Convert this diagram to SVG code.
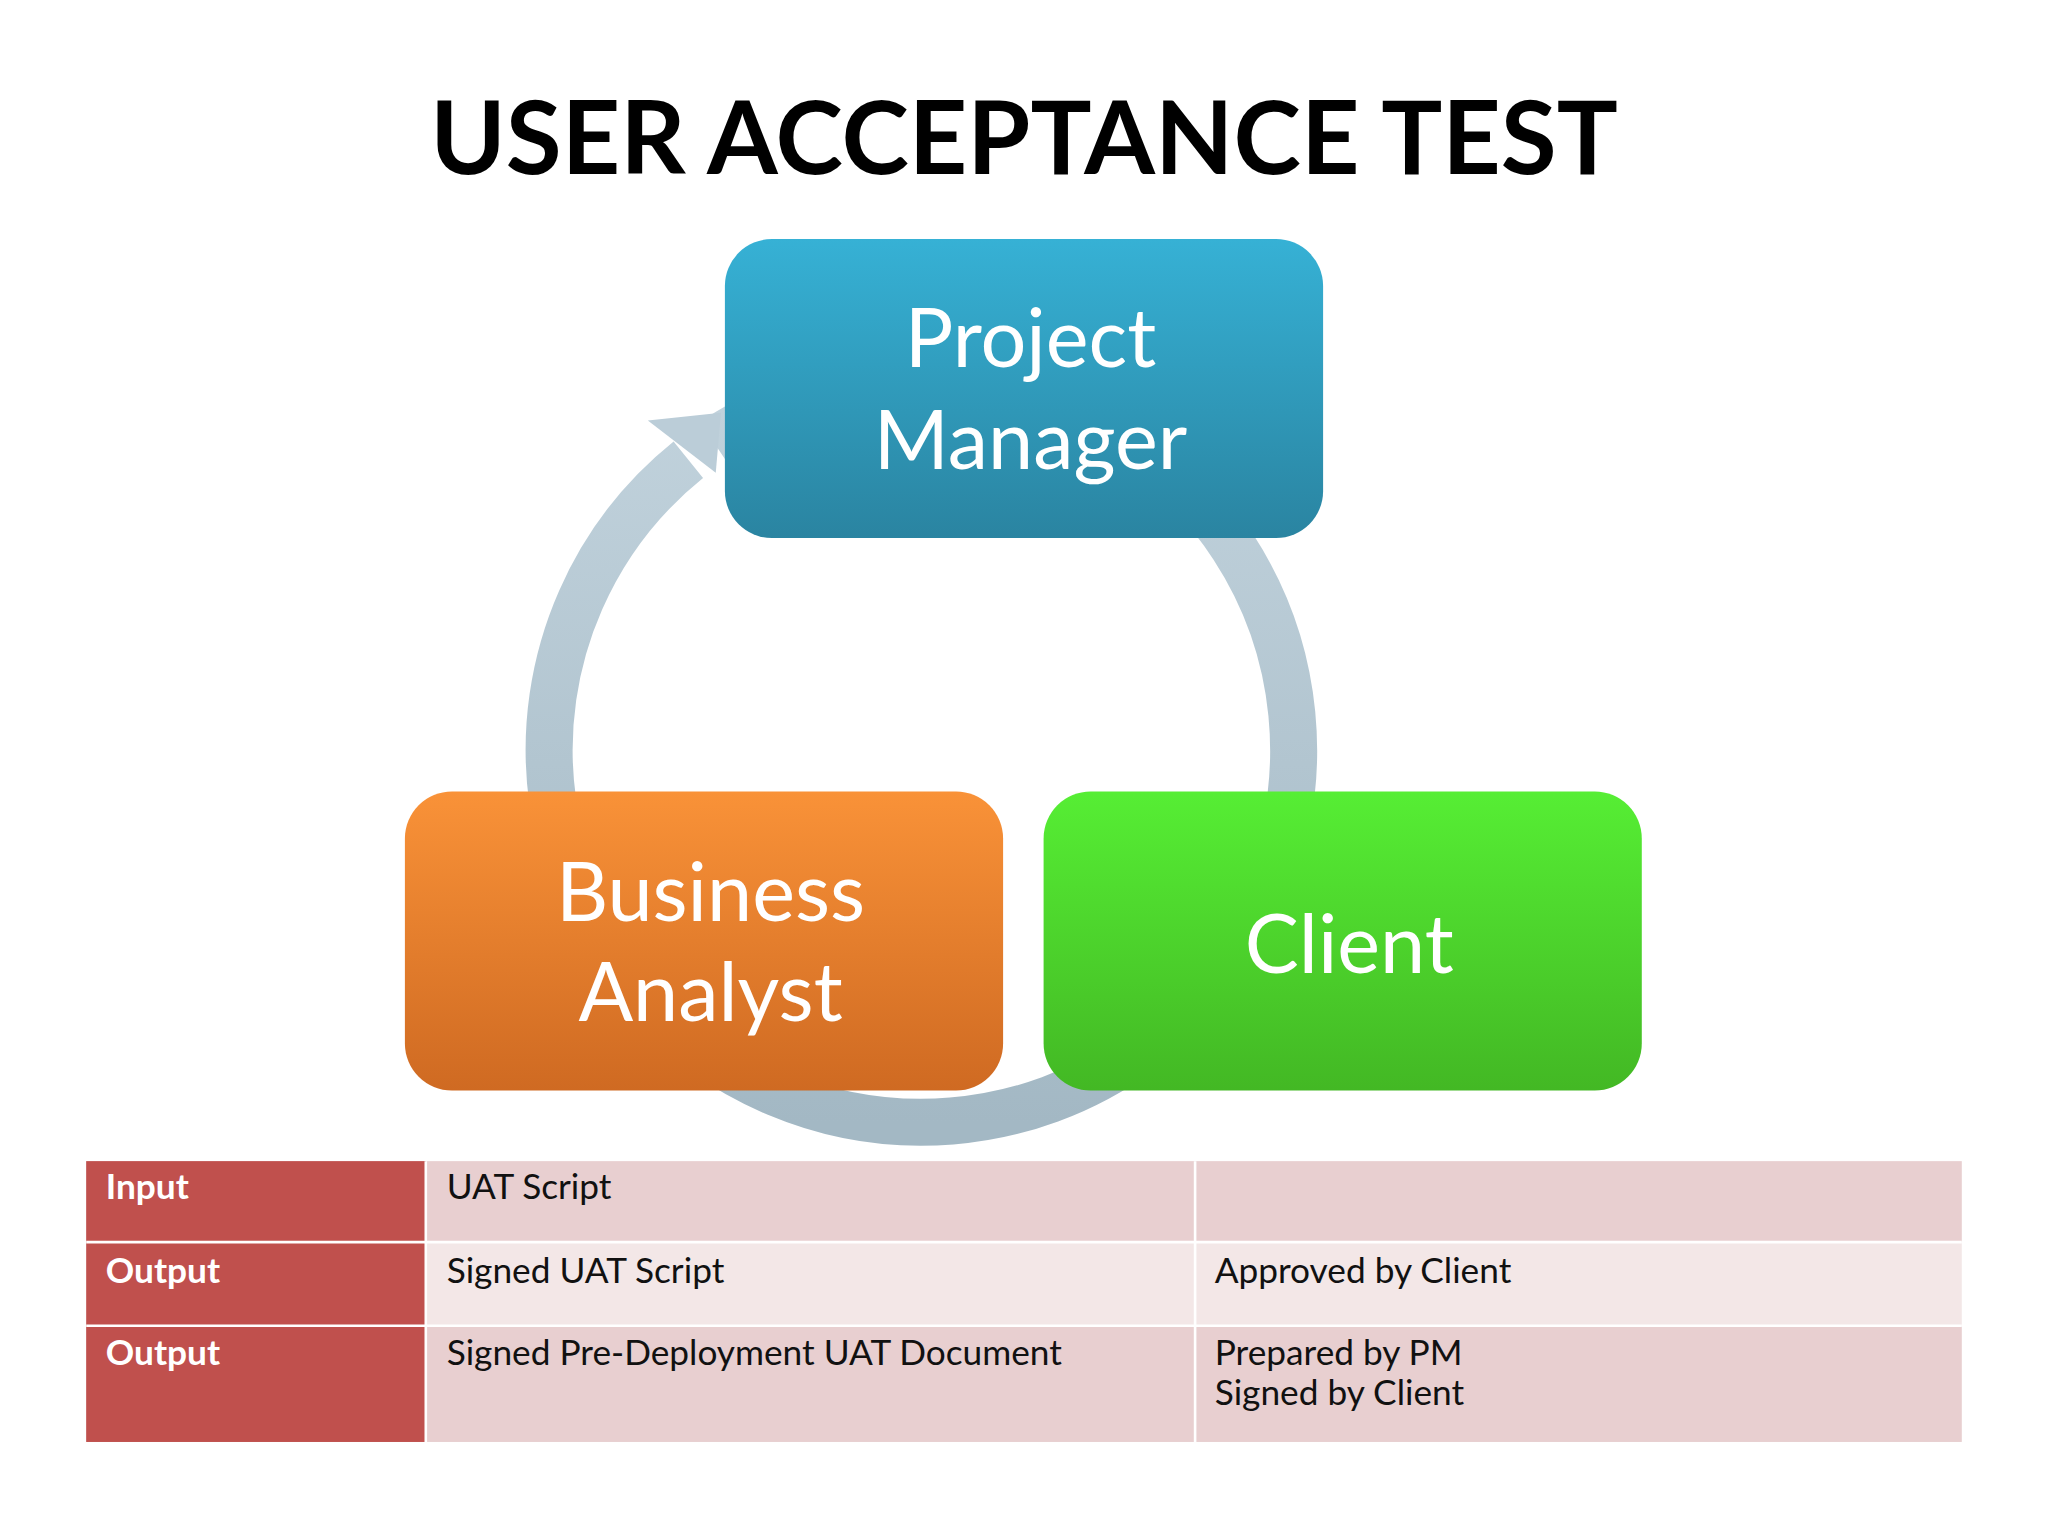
<svg xmlns="http://www.w3.org/2000/svg" width="2048" height="1536" viewBox="0 0 2048 1536">
<defs>
<linearGradient id="gb" x1="0" y1="0" x2="0" y2="1"><stop offset="0" stop-color="#36B1D5"/><stop offset="1" stop-color="#2A84A1"/></linearGradient>
<linearGradient id="go" x1="0" y1="0" x2="0" y2="1"><stop offset="0" stop-color="#F99238"/><stop offset="1" stop-color="#CF6A22"/></linearGradient>
<linearGradient id="gg" x1="0" y1="0" x2="0" y2="1"><stop offset="0" stop-color="#56EE34"/><stop offset="1" stop-color="#43B824"/></linearGradient>
<linearGradient id="ga" x1="0" y1="0" x2="0" y2="1"><stop offset="0" stop-color="#C2D3DD"/><stop offset="1" stop-color="#A3B8C4"/></linearGradient>
<style>
.t{font-family:Lato,"Liberation Sans",sans-serif}
.n{font-family:Lato,"Liberation Sans",sans-serif;font-size:62px;fill:#fff;text-anchor:middle}
.c{font-family:Lato,"Liberation Sans",sans-serif;font-size:27px;fill:#111}
.h{font-family:Lato,"Liberation Sans",sans-serif;font-size:27px;fill:#fff;font-weight:bold}
</style>
</defs>
<rect width="2048" height="1536" fill="#fff"/>
<g transform="scale(1.30612)">
<text class="t" x="784" y="133" font-size="78" font-weight="bold" text-anchor="middle" fill="#000">USER ACCEPTANCE TEST</text>
<g id="connectors">
<path d="M 527 352 A 285 285 0 1 0 546 338" fill="none" stroke="url(#ga)" stroke-width="36"/>
<polygon points="496,322 552,316 548,362" fill="#BBCDD8"/>
</g>
<g id="pm"><rect x="555" y="183" width="458" height="229" rx="36" fill="url(#gb)"/>
<text class="n" x="789" y="281">Project</text><text class="n" x="789" y="359">Manager</text></g>
<g id="ba"><rect x="310" y="606" width="458" height="229" rx="36" fill="url(#go)"/>
<text class="n" x="544" y="705">Business</text><text class="n" x="544" y="782">Analyst</text></g>
<g id="client"><rect x="799" y="606" width="458" height="229" rx="36" fill="url(#gg)"/>
<text class="n" x="1033" y="745">Client</text></g>
<g id="table">
<rect x="66" y="889" width="1436" height="62" fill="#E8CFD0"/>
<rect x="66" y="951" width="1436" height="64" fill="#F3E7E7"/>
<rect x="66" y="1015" width="1436" height="89" fill="#E8CFD0"/>
<rect x="66" y="889" width="260" height="215" fill="#C0504D"/>
<g stroke="#fff" stroke-width="2"><line x1="66" y1="951" x2="1502" y2="951"/><line x1="66" y1="1015" x2="1502" y2="1015"/><line x1="326" y1="889" x2="326" y2="1104"/><line x1="915" y1="889" x2="915" y2="1104"/></g>
<text class="h" x="81" y="918">Input</text>
<text class="h" x="81" y="982">Output</text>
<text class="h" x="81" y="1045">Output</text>
<text class="c" x="342" y="918">UAT Script</text>
<text class="c" x="342" y="982">Signed UAT Script</text>
<text class="c" x="342" y="1045">Signed Pre-Deployment UAT Document</text>
<text class="c" x="930" y="982">Approved by Client</text>
<text class="c" x="930" y="1045">Prepared by PM</text>
<text class="c" x="930" y="1076">Signed by Client</text>
</g>
</g>
</svg>
